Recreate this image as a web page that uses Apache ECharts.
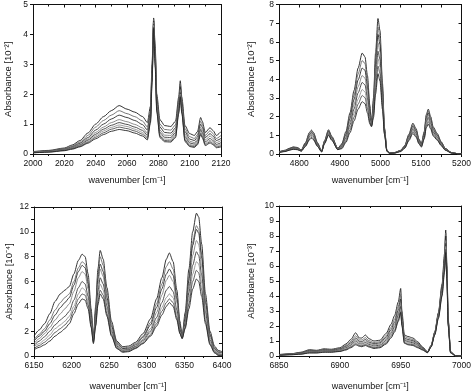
<!DOCTYPE html>
<html><head><meta charset="utf-8">
<script src="https://cdn.jsdelivr.net/npm/echarts@6/dist/echarts.min.js"></script>
<style>html,body{margin:0;padding:0;background:#fff}#c{width:474px;height:392px}</style>
</head><body><div id="c"></div>
<script>
// ---------- Panel 1 (2000-2120 cm-1, 10^-2) ----------
const p1x = [2000,2010,2020,2025,2030,2035,2040,2045,2050,2055,2060,2065,2070,2073,2075,2076,2077,2078,2079,2081,2084,2088,2091,2093,2094,2095,2097,2100,2103,2105,2107,2108,2110,2113,2115,2117,2120];
const p1a = [0.08,0.12,0.2,0.3,0.45,0.7,1.0,1.25,1.45,1.62,1.5,1.4,1.25,1.05,1.6,3.0,4.55,3.6,2.0,1.15,0.95,0.92,1.1,1.9,2.45,1.9,0.95,0.68,0.62,0.75,1.22,1.1,0.72,0.88,0.78,0.62,0.75];
const p1b = [0.07,0.11,0.18,0.27,0.4,0.62,0.9,1.12,1.3,1.45,1.35,1.25,1.1,0.9,1.45,2.9,4.5,3.5,1.9,1.0,0.82,0.8,0.98,1.8,2.35,1.8,0.85,0.58,0.52,0.65,1.1,1.0,0.62,0.78,0.68,0.52,0.62];
const p1c = [0.06,0.1,0.16,0.24,0.36,0.55,0.8,1.0,1.17,1.3,1.22,1.12,0.98,0.8,1.35,2.8,4.45,3.4,1.8,0.9,0.72,0.7,0.88,1.7,2.25,1.7,0.75,0.5,0.45,0.57,1.0,0.9,0.55,0.68,0.6,0.45,0.52];
const p1d = [0.06,0.09,0.15,0.22,0.33,0.5,0.72,0.9,1.05,1.15,1.08,0.99,0.87,0.7,1.25,2.7,4.4,3.3,1.7,0.8,0.63,0.62,0.8,1.6,2.15,1.6,0.66,0.43,0.38,0.5,0.9,0.8,0.47,0.6,0.52,0.38,0.45];
const p1e = [0.05,0.08,0.14,0.2,0.3,0.46,0.66,0.83,0.96,1.05,0.99,0.9,0.79,0.63,1.2,2.6,4.35,3.2,1.6,0.72,0.56,0.55,0.72,1.5,2.05,1.5,0.58,0.37,0.33,0.44,0.82,0.72,0.41,0.52,0.45,0.32,0.38];
const p1f = [0.05,0.08,0.13,0.19,0.28,0.42,0.61,0.77,0.89,0.97,0.92,0.83,0.72,0.57,1.15,2.5,4.3,3.1,1.5,0.65,0.5,0.49,0.66,1.45,2.0,1.45,0.52,0.32,0.28,0.39,0.76,0.66,0.36,0.46,0.4,0.28,0.33];
const p1g = [0.04,0.07,0.12,0.18,0.26,0.39,0.56,0.71,0.83,0.9,0.85,0.77,0.66,0.52,1.1,2.45,4.25,3.0,1.45,0.6,0.45,0.44,0.6,1.4,1.95,1.4,0.47,0.28,0.25,0.35,0.7,0.6,0.32,0.41,0.35,0.24,0.28];
const p1h = [0.04,0.06,0.11,0.16,0.24,0.36,0.51,0.65,0.76,0.82,0.78,0.7,0.6,0.47,1.05,2.4,4.2,2.9,1.4,0.55,0.41,0.4,0.55,1.35,1.9,1.35,0.42,0.25,0.22,0.31,0.65,0.55,0.28,0.37,0.31,0.21,0.24];

// ---------- Panel 2 (4750-5200 cm-1, 10^-2) ----------
const p2x = [4750,4765,4775,4785,4795,4805,4815,4825,4830,4835,4845,4855,4862,4872,4880,4895,4905,4915,4925,4935,4945,4955,4962,4968,4974,4978,4983,4988,4994,4999,5005,5010,5016,5022,5035,5050,5060,5070,5080,5088,5095,5101,5108,5113,5118,5124,5130,5140,5150,5160,5175,5190,5200];
const p2a = [0.12,0.2,0.3,0.38,0.35,0.22,0.6,1.15,1.28,1.15,0.6,0.15,0.7,1.3,0.95,0.3,0.55,1.2,2.2,3.4,4.6,5.4,5.2,4.2,2.6,1.6,3.0,5.4,7.25,6.6,3.8,1.4,0.2,0.05,0.08,0.2,0.45,1.05,1.65,1.35,0.8,0.55,1.2,2.1,2.4,2.0,1.45,1.1,0.65,0.3,0.08,0.02,0.01];
const p2b = [0.11,0.19,0.28,0.36,0.33,0.21,0.57,1.09,1.22,1.09,0.57,0.14,0.68,1.26,0.92,0.29,0.52,1.12,2.05,3.15,4.28,5.0,4.84,3.9,2.45,1.58,2.85,5.1,6.8,6.2,3.6,1.35,0.2,0.05,0.08,0.19,0.43,1.0,1.57,1.28,0.76,0.53,1.14,2.0,2.3,1.9,1.38,1.05,0.62,0.29,0.08,0.02,0.01];
const p2c = [0.1,0.18,0.27,0.34,0.31,0.2,0.54,1.03,1.15,1.03,0.54,0.14,0.65,1.21,0.88,0.28,0.48,1.03,1.9,2.92,3.96,4.6,4.48,3.6,2.3,1.56,2.7,4.8,6.4,5.85,3.4,1.3,0.19,0.05,0.07,0.18,0.41,0.95,1.49,1.22,0.72,0.5,1.08,1.9,2.2,1.8,1.31,1.0,0.59,0.28,0.07,0.02,0.01];
const p2d = [0.1,0.17,0.25,0.32,0.3,0.19,0.51,0.98,1.09,0.98,0.51,0.13,0.63,1.17,0.86,0.27,0.44,0.94,1.72,2.65,3.6,4.2,4.06,3.28,2.1,1.54,2.55,4.45,5.95,5.45,3.2,1.25,0.18,0.05,0.07,0.17,0.39,0.9,1.41,1.16,0.69,0.48,1.03,1.8,2.08,1.72,1.25,0.95,0.56,0.26,0.07,0.02,0.01];
const p2e = [0.09,0.16,0.24,0.3,0.28,0.18,0.48,0.92,1.02,0.92,0.48,0.13,0.61,1.13,0.83,0.26,0.4,0.85,1.56,2.41,3.27,3.83,3.7,3.0,1.95,1.52,2.4,4.1,5.5,5.05,3.0,1.2,0.17,0.04,0.06,0.16,0.37,0.85,1.33,1.09,0.65,0.45,0.97,1.7,1.95,1.62,1.17,0.89,0.53,0.25,0.07,0.02,0.01];
const p2f = [0.09,0.15,0.22,0.28,0.26,0.17,0.45,0.86,0.96,0.86,0.45,0.12,0.58,1.08,0.79,0.25,0.36,0.77,1.41,2.18,2.94,3.45,3.33,2.7,1.8,1.5,2.25,3.78,5.1,4.65,2.8,1.15,0.16,0.04,0.06,0.15,0.35,0.81,1.27,1.04,0.62,0.43,0.92,1.62,1.85,1.54,1.12,0.85,0.5,0.23,0.06,0.02,0.01];
const p2g = [0.08,0.14,0.21,0.27,0.25,0.16,0.42,0.8,0.9,0.8,0.42,0.12,0.56,1.04,0.76,0.24,0.33,0.7,1.28,1.97,2.67,3.13,3.02,2.45,1.7,1.48,2.1,3.5,4.7,4.3,2.6,1.1,0.15,0.04,0.06,0.14,0.33,0.76,1.19,0.97,0.58,0.4,0.86,1.51,1.73,1.44,1.04,0.79,0.47,0.22,0.06,0.02,0.01];
const p2h = [0.08,0.13,0.2,0.25,0.23,0.15,0.4,0.76,0.85,0.76,0.4,0.11,0.54,1.0,0.73,0.23,0.29,0.62,1.14,1.77,2.4,2.8,2.7,2.2,1.6,1.46,1.95,3.2,4.3,3.9,2.4,1.05,0.14,0.04,0.05,0.13,0.31,0.71,1.1,0.9,0.54,0.37,0.8,1.4,1.6,1.34,0.97,0.74,0.44,0.2,0.05,0.01,0.01];

// ---------- Panel 3 (6150-6400 cm-1, 10^-4) ----------
const p3x = [6150,6157,6164,6171,6178,6185,6191,6197,6203,6209,6214,6218,6222,6226,6229,6232,6235,6238,6242,6247,6253,6260,6268,6276,6285,6295,6305,6313,6320,6326,6330,6335,6340,6344,6347,6351,6356,6361,6366,6369,6373,6378,6384,6390,6395,6400];
const p3a = [1.6,2.1,2.6,3.4,4.4,5.0,5.3,5.6,6.6,7.7,8.2,8.0,6.6,3.8,1.5,4.0,7.0,8.5,7.8,5.5,2.8,1.2,0.75,0.8,1.1,1.8,3.0,4.6,6.3,7.8,8.3,7.6,5.3,2.8,1.6,3.5,7.0,10.0,11.5,11.2,9.0,5.0,2.0,0.8,0.45,0.35];
const p3b = [1.3,1.75,2.2,2.9,3.7,4.3,4.7,5.0,6.0,7.1,7.6,7.4,6.1,3.5,1.4,3.7,6.6,8.0,7.3,5.1,2.6,1.1,0.65,0.7,1.0,1.6,2.7,4.2,5.8,7.2,7.6,7.0,4.9,2.6,1.55,3.2,6.4,9.2,10.5,10.2,8.2,4.5,1.8,0.7,0.38,0.3];
const p3c = [1.2,1.6,2.0,2.6,3.3,3.9,4.3,4.7,5.7,6.8,7.3,7.1,5.8,3.3,1.35,3.5,6.2,7.4,6.8,4.7,2.4,1.0,0.6,0.62,0.9,1.5,2.5,3.9,5.4,6.6,7.0,6.5,4.6,2.5,1.5,3.0,6.1,8.9,10.2,9.9,7.9,4.3,1.7,0.6,0.3,0.25];
const p3d = [1.0,1.4,1.8,2.3,2.9,3.4,3.8,4.2,5.2,6.3,6.8,6.6,5.4,3.1,1.3,3.2,5.8,7.0,6.4,4.4,2.2,0.9,0.5,0.55,0.8,1.35,2.2,3.5,4.9,6.1,6.5,6.0,4.3,2.3,1.5,2.8,5.6,8.1,9.3,9.0,7.2,3.9,1.5,0.5,0.22,0.15];
const p3e = [0.85,1.2,1.55,2.0,2.5,2.9,3.2,3.6,4.5,5.5,6.0,5.8,4.8,2.8,1.2,2.9,5.2,6.3,5.8,4.0,2.0,0.8,0.45,0.5,0.75,1.25,2.0,3.1,4.3,5.3,5.6,5.2,3.7,2.1,1.45,2.6,5.1,7.3,8.4,8.1,6.5,3.5,1.3,0.4,0.15,0.1];
const p3f = [0.75,1.0,1.3,1.7,2.2,2.5,2.8,3.2,4.0,5.0,5.5,5.3,4.4,2.6,1.15,2.7,4.8,5.8,5.3,3.7,1.85,0.72,0.4,0.45,0.7,1.15,1.85,2.8,3.9,4.7,5.0,4.7,3.4,1.95,1.45,2.4,4.6,6.6,7.6,7.4,5.9,3.1,1.15,0.35,0.1,0.05];
const p3g = [0.6,0.85,1.1,1.45,1.9,2.2,2.5,2.9,3.7,4.6,5.0,4.9,4.1,2.4,1.1,2.5,4.4,5.3,4.9,3.4,1.7,0.65,0.35,0.4,0.65,1.05,1.7,2.6,3.6,4.3,4.6,4.3,3.1,1.85,1.4,2.3,4.2,6.0,6.9,6.7,5.3,2.8,1.0,0.3,0.08,0.03];
const p3h = [0.5,0.7,0.9,1.2,1.6,1.9,2.2,2.6,3.4,4.2,4.6,4.5,3.8,2.3,1.0,2.4,4.1,5.0,4.6,3.2,1.6,0.6,0.3,0.35,0.6,1.0,1.6,2.4,3.3,4.0,4.3,4.0,2.9,1.8,1.4,2.2,3.8,5.4,6.2,6.0,4.8,2.6,0.9,0.25,0.05,0.0];

// ---------- Panel 4 (6850-7000 cm-1, 10^-3) ----------
const p4x = [6850,6860,6868,6875,6881,6887,6893,6900,6905,6909,6913,6916,6918,6921,6924,6928,6933,6938,6942,6945,6948,6950,6951,6953,6956,6960,6964,6968,6972,6975,6978,6981,6984,6986,6987,6988,6989,6991,6995,7000];
const p4a = [0.1,0.15,0.25,0.42,0.38,0.48,0.45,0.55,0.8,1.1,1.55,1.2,1.2,1.4,1.15,1.0,1.05,1.5,2.1,2.7,3.6,4.5,3.0,1.4,1.3,1.2,0.95,0.6,0.28,0.7,1.6,2.9,4.8,6.8,8.4,6.0,2.5,0.3,0.02,0.0];
const p4b = [0.09,0.14,0.23,0.38,0.35,0.44,0.41,0.5,0.72,0.98,1.35,1.08,1.07,1.22,1.02,0.9,0.95,1.35,1.9,2.45,3.3,4.1,2.8,1.3,1.2,1.1,0.88,0.56,0.27,0.69,1.58,2.85,4.7,6.6,8.2,5.8,2.4,0.28,0.02,0.0];
const p4c = [0.08,0.13,0.21,0.35,0.32,0.4,0.38,0.46,0.65,0.88,1.2,0.98,0.96,1.1,0.92,0.82,0.87,1.24,1.75,2.25,3.05,3.8,2.6,1.2,1.1,1.02,0.82,0.53,0.26,0.68,1.55,2.8,4.6,6.45,8.0,5.7,2.35,0.27,0.02,0.0];
const p4d = [0.07,0.12,0.19,0.32,0.3,0.37,0.35,0.42,0.6,0.8,1.1,0.9,0.88,1.0,0.85,0.75,0.8,1.14,1.62,2.1,2.85,3.5,2.45,1.12,1.02,0.95,0.77,0.5,0.25,0.66,1.52,2.75,4.45,6.25,7.7,5.55,2.3,0.26,0.02,0.0];
const p4e = [0.06,0.11,0.17,0.28,0.27,0.33,0.32,0.38,0.54,0.72,1.0,0.82,0.8,0.9,0.77,0.67,0.72,1.04,1.5,1.95,2.7,3.3,2.3,1.05,0.95,0.88,0.71,0.47,0.24,0.65,1.5,2.7,4.3,6.05,7.5,5.4,2.25,0.25,0.02,0.0];
const p4f = [0.06,0.1,0.15,0.25,0.24,0.3,0.29,0.35,0.48,0.65,0.9,0.75,0.72,0.82,0.7,0.6,0.65,0.95,1.4,1.8,2.55,3.1,2.2,0.98,0.88,0.82,0.65,0.44,0.23,0.63,1.47,2.65,4.2,5.9,7.3,5.25,2.2,0.24,0.02,0.0];
const p4g = [0.05,0.09,0.13,0.22,0.22,0.27,0.27,0.32,0.44,0.6,0.82,0.7,0.67,0.76,0.65,0.55,0.6,0.87,1.3,1.7,2.4,2.95,2.1,0.9,0.8,0.76,0.6,0.42,0.22,0.61,1.44,2.58,4.1,5.75,7.1,5.1,2.1,0.22,0.01,0.0];
const p4h = [0.05,0.08,0.12,0.2,0.2,0.25,0.25,0.3,0.4,0.55,0.75,0.65,0.62,0.7,0.6,0.5,0.55,0.8,1.2,1.6,2.3,2.9,2.0,0.85,0.75,0.7,0.55,0.4,0.22,0.6,1.4,2.5,4.0,5.6,6.9,5.0,2.0,0.2,0.01,0.0];

// axis names
const xName = 'wavenumber [cm\u207B\u00B9]';
const yNames = ['Absorbance [10\u207B\u00B2]','Absorbance [10\u207B\u00B2]','Absorbance [10\u207B\u2074]','Absorbance [10\u207B\u00B3]'];

const FONT = '"Liberation Sans", Arial, sans-serif';
const lineColors = ['#1e1e1e','#6a6a6a','#2c2c2c','#808080','#3c3c3c','#939393','#4e4e4e','#262626'];

const panels = [
  {grid:{left:33,top:4,width:188,height:150}, xmin:2000,xmax:2120,xint:20,xlab:20, ymax:5,  ylab:1, xs:p1x, curves:[p1a,p1b,p1c,p1d,p1e,p1f,p1g,p1h], yGap:20, xGap:22, minor:true},
  {grid:{left:279,top:4,width:186,height:150}, xmin:4750,xmax:5200,xint:50,xlab:100, ymax:8, ylab:1, xs:p2x, curves:[p2a,p2b,p2c,p2d,p2e,p2f,p2g,p2h], yGap:23, xGap:22, minor:false},
  {grid:{left:34,top:207,width:188,height:149}, xmin:6150,xmax:6400,xint:50,xlab:50, ymax:12, ylab:2, xs:p3x, curves:[p3a,p3b,p3c,p3d,p3e,p3f,p3g,p3h], yGap:20, xGap:26, minor:true},
  {grid:{left:279,top:206,width:186,height:150}, xmin:6850,xmax:7000,xint:50,xlab:50, ymax:10, ylab:1, xs:p4x, curves:[p4a,p4b,p4c,p4d,p4e,p4f,p4g,p4h], yGap:23, xGap:26, minor:true}
];

const grids=[], xAxes=[], yAxes=[], series=[];
const axLine = {show:true, onZero:false, lineStyle:{color:'#111', width:1}};
panels.forEach((p,i)=>{
  grids.push(Object.assign({show:false}, p.grid));
  xAxes.push({type:'value', gridIndex:i, position:'bottom', min:p.xmin, max:p.xmax, interval:p.xint,
    axisLine:axLine, axisTick:{show:true, inside:false, length:3, lineStyle:{color:'#111'}},
    minorTick:{show:p.minor, splitNumber:2, length:2, lineStyle:{color:'#111'}},
    splitLine:{show:false},
    axisLabel:{fontSize:8.5, color:'#111', fontFamily:FONT, margin:5, showMinLabel:true, showMaxLabel:true,
      formatter:(v)=> (Math.round(v)%p.xlab===0 ? String(Math.round(v)) : '')},
    name:xName, nameLocation:'middle', nameGap:p.xGap, nameTextStyle:{fontSize:9, color:'#111', fontFamily:FONT}});
  xAxes.push({type:'value', gridIndex:i, position:'top', min:p.xmin, max:p.xmax, interval:p.xint,
    axisLine:axLine, axisTick:{show:true, inside:true, length:3, lineStyle:{color:'#111'}},
    minorTick:{show:p.minor, splitNumber:2, length:2, lineStyle:{color:'#111'}},
    splitLine:{show:false}, axisLabel:{show:false}});
  yAxes.push({type:'value', gridIndex:i, position:'left', min:0, max:p.ymax, interval:1,
    axisLine:axLine, axisTick:{show:true, inside:false, length:3, lineStyle:{color:'#111'}},
    splitLine:{show:false},
    axisLabel:{fontSize:8.5, color:'#111', fontFamily:FONT, margin:5,
      formatter:(v)=> (Math.round(v)%p.ylab===0 ? String(Math.round(v)) : '')},
    name:yNames[i], nameLocation:'middle', nameGap:p.yGap, nameTextStyle:{fontSize:9.5, color:'#111', fontFamily:FONT}});
  yAxes.push({type:'value', gridIndex:i, position:'right', min:0, max:p.ymax, interval:1,
    axisLine:axLine, axisTick:{show:true, inside:true, length:3, lineStyle:{color:'#111'}},
    splitLine:{show:false}, axisLabel:{show:false}});
  p.curves.forEach((ys,k)=>{
    series.push({type:'line', xAxisIndex:2*i, yAxisIndex:2*i, showSymbol:false, silent:true,
      smooth:0.25, smoothMonotone:'x',
      lineStyle:{width:0.9, color:lineColors[k]},
      data:p.xs.map((x,j)=>[x, ys[j]])});
  });
});

const chart = echarts.init(document.getElementById('c'), null, {renderer:'canvas'});
chart.setOption({animation:false, backgroundColor:'#fff', textStyle:{fontFamily:FONT},
  grid:grids, xAxis:xAxes, yAxis:yAxes, series:series});
</script></body></html>
